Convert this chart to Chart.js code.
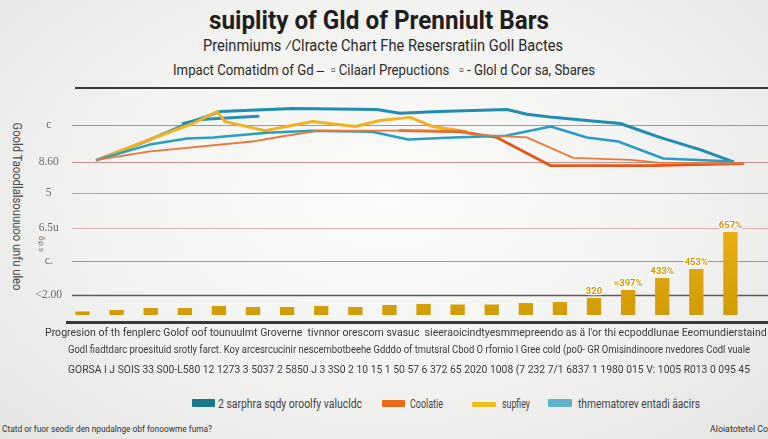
<!DOCTYPE html>
<html>
<head>
<meta charset="utf-8">
<script src="https://cdn.jsdelivr.net/npm/chart.js@4.4.1/dist/chart.umd.min.js"></script>
<style>
  html, body { margin:0; padding:0; }
  body {
    width:768px; height:439px; overflow:hidden; position:relative;
    background: radial-gradient(ellipse at 50% 45%, #fbfbf9 0%, #f2f2f0 55%, #e4e4e2 100%);
    font-family: "Roboto", "Liberation Sans", sans-serif;
    color:#2a2a2a;
  }
  .abs { position:absolute; white-space:nowrap; line-height:1; }
  .fit { display:inline-block; transform-origin:0 0; }
  .rule { position:absolute; height:2px; background:#3a3a3a; }
  .note { font-size:10.5px; color:#3a3a3a; }
  .leg { font-size:12.5px; color:#444; }
  .sw { position:absolute; border-radius:1px; }
  .foot { font-size:8.5px; color:#333; }
  #ytitle { font-size:13px; color:#4a4a4a; transform-origin:50% 50%; }
  #wrap { position:absolute; left:0; }
</style>
</head>
<body>
<div class="abs fit" data-w="340" style="left:209px; top:8px; font-size:25px; font-weight:bold; color:#1e1e1e;">suiplity of Gld of Prenniult Bars</div>
<div class="abs fit" data-w="360" style="left:203px; top:38px; font-size:16px;">Preinmiums ⁄Clracte Chart Fhe Resersratiin GolI Bactes</div>
<div class="abs fit" data-w="422" style="left:173px; top:63px; font-size:15px;">Impact Comatidm of Gd ‒&nbsp;&nbsp;▫ Cilaarl Prepuctions&nbsp;&nbsp;&nbsp;▫ - Glol d Cor sa, Sbares</div>
<div class="rule" style="left:75px; top:87px; width:693px;"></div>

<div id="ytitle" class="abs">Goold Taoodlalsouuuoo unfu uleo</div>
<div class="abs" style="left:33px; top:240px; font-size:8px; color:#777; transform:rotate(90deg);">ẟp.s</div>

<div id="wrap"><canvas id="chart"></canvas></div>

<div class="rule" style="left:66px; top:321px; width:702px; height:2.5px;"></div>
<div class="abs fit note" data-w="730" style="left:45px; top:328px;">Progresion of th fenplerc Golof oof tounuulmt Groverne&nbsp; tivnnor orescom svasuc&nbsp; sieeraoicindtyesmmepreendo as ä l'or thi ecpoddlunae Eeomundierstaind a</div>
<div class="abs fit note" data-w="682" style="left:68px; top:345px;">Godl fiadtdarc proesituid srotly farct. Koy arcesrcucinir nescembotbeehe Gdddo of tmutsral Cbod O rfornio I Gree cold (po0- GR Omisindinoore nvedores Codl vuale</div>
<div class="abs fit note" data-w="682" style="left:68px; top:364px; font-size:11px;">GORSA I J SOIS 33 S00-L580 12 1273 3 5037 2 5850 J 3 3S0 2 10 15 1 50 57 6 372 65 2020 1008 (7 232 7/1 6837 1 1980 015 V: 1005 R013 0 095 45</div>

<div class="sw" style="left:192px; top:399px; width:23px; height:8px; background:#17798c;"></div>
<div class="abs fit leg" data-w="144" style="left:218px; top:398px;">2 sarphra sqdy oroolfy valucldc</div>
<div class="sw" style="left:382px; top:400px; width:23px; height:7px; background:#ea6a1c;"></div>
<div class="abs fit leg" data-w="33" style="left:410px; top:398px;">Coolatie</div>
<div class="sw" style="left:472px; top:402px; width:24px; height:5px; background:#f0bd1e;"></div>
<div class="abs fit leg" data-w="28" style="left:502px; top:398px;">supfiey</div>
<div class="sw" style="left:548px; top:399px; width:24px; height:8px; background:#5fb2c8;"></div>
<div class="abs fit leg" data-w="122" style="left:578px; top:398px;">thmematorev entadi ắacirs</div>

<div class="abs fit foot" data-w="210" style="left:2px; top:425px;">Ctatd or fuor seodir den npudalnge obf fonoowme fuma?</div>
<div class="abs fit foot" data-w="58" style="left:710px; top:425px;">Aloiatotetel Co</div>

<script>
// ---- data ----
const yTicks = [0, 0.99, 1.96, 3.0, 3.9, 5.0];
const yTickLabels = ['<2.00', 'c.', '6.5u', '5', '8.60', 'c'];

const barCategories = ['1','2','3','4','5','6','7','8','9','10','11','12','13','14','15','16','17','18','19','20'];
const barValues = [3.5, 5, 7, 7, 9, 8, 8, 9, 8, 10, 11, 10.5, 10.5, 12, 13, 17, 25, 37, 46, 83];
const barLabels = [null,null,null,null,null,null,null,null,null,null,null,null,null,null,null,'320','≈397%','433%','453%','657%'];

// line series, x on a 0..100 run across the plot
const tealTopX = [3.4, 10.1, 17.4, 21.4, 32.1, 44.4, 47.8, 53.5, 63.5, 66.4, 70.2, 75.2, 80.1, 85.9, 91.8, 96.6];
const tealTopY = [3.96, 4.47, 5.09, 5.38, 5.47, 5.44, 5.33, 5.38, 5.44, 5.30, 5.21, 5.12, 5.03, 4.62, 4.26, 3.91];

const yellowX = [3.4, 11.1, 17.4, 21.0, 22.1, 28.0, 35.0, 41.2, 44.9, 49.3, 52.6, 57.6];
const yellowY = [3.96, 4.56, 5.03, 5.38, 5.09, 4.82, 5.09, 4.94, 5.12, 5.21, 4.94, 4.79];

const lightBlueX = [3.4, 11.1, 16.6, 20.4, 28.3, 35.0, 43.7, 49.0, 55.6, 63.3, 69.9, 75.2, 79.8, 86.4, 96.6];
const lightBlueY = [3.96, 4.41, 4.59, 4.62, 4.76, 4.82, 4.79, 4.56, 4.62, 4.67, 4.94, 4.62, 4.50, 4.00, 3.91];

const orangeX = [3.4, 10.9, 26.1, 30.2, 35.9, 44.9, 56.6, 58.5, 66.4, 73.2, 81.7, 85.6, 98.1];
const orangeY = [3.96, 4.20, 4.50, 4.64, 4.82, 4.82, 4.82, 4.70, 4.62, 4.02, 3.96, 3.88, 3.85];

const darkOrangeX = [47.8, 56.6, 62.0, 69.9, 84.9, 98.1];
const darkOrangeY = [4.82, 4.79, 4.62, 3.79, 3.79, 3.85];

const shortTealX = [16.0, 18.5, 27.0];
const shortTealY = [5.03, 5.15, 5.24];

const pts = (xs, ys) => xs.map((x, i) => ({ x, y: ys[i] }));

// ---- squeeze text to the widths seen in the picture ----
document.querySelectorAll('.fit').forEach(el => {
  const w = el.getBoundingClientRect().width;
  el.style.transform = 'scaleX(' + (+el.dataset.w / w) + ')';
});
const yt = document.getElementById('ytitle');
const ytw = yt.getBoundingClientRect().width, yth = yt.getBoundingClientRect().height;
yt.style.left = (17 - ytw / 2) + 'px';
yt.style.top = (206 - yth / 2) + 'px';
yt.style.transform = 'rotate(90deg) scaleX(' + (168 / ytw) + ')';

// ---- chart placement: plot area should run from y=99 to y=315 on the page ----
const wrap = document.getElementById('wrap');
const canvas = document.getElementById('chart');
const wrapTop = 80, wrapH = 250;
wrap.style.top = wrapTop + 'px';
canvas.width = 768; canvas.height = wrapH;

const gridColors = ['#5a5a5a', '#9a9a9a', '#dcb2b2', '#cc9898', '#c89090', '#9a9a9a'];

const gridPlugin = {
  id: 'fullGrid',
  beforeDatasetsDraw(chart){
    const c = chart.ctx, y = chart.scales.y;
    c.save();
    yTicks.forEach((v, i) => {
      const py = Math.round(y.getPixelForValue(v)) + 0.5;
      c.strokeStyle = gridColors[i];
      c.lineWidth = i === 0 ? 1.6 : 1.2;
      c.beginPath(); c.moveTo(72, py); c.lineTo(chart.width, py); c.stroke();
    });
    c.restore();
  }
};

const barLabelPlugin = {
  id: 'barLabels',
  afterDatasetsDraw(chart){
    const meta = chart.getDatasetMeta(0);
    const c = chart.ctx;
    c.save();
    c.font = 'bold 9.5px Roboto, sans-serif';
    c.textAlign = 'center'; c.textBaseline = 'bottom';
    meta.data.forEach((el, i) => {
      if (!barLabels[i]) return;
      c.lineWidth = 2.5; c.strokeStyle = 'rgba(255,255,255,0.85)';
      c.strokeText(barLabels[i], el.x, el.y - 2);
      c.fillStyle = '#d39a0a';
      c.fillText(barLabels[i], el.x, el.y - 2);
    });
    c.restore();
  }
};

const goldFill = (ctx) => {
  const { chart } = ctx;
  const area = chart.chartArea;
  if (!area) return '#dba410';
  const g = chart.ctx.createLinearGradient(0, area.bottom - 90, 0, area.bottom);
  g.addColorStop(0, '#e9b015');
  g.addColorStop(1, '#d29c08');
  return g;
};

const lineDs = (label, data, color, width) => ({
  type: 'line', label, data, xAxisID: 'xl', yAxisID: 'y',
  borderColor: color, borderWidth: width, pointRadius: 0, tension: 0,
  borderJoinStyle: 'round', borderCapStyle: 'round', fill: false
});

// pin the plot area so the grid lands where the picture has it
const pinArea = {
  id: 'pinArea',
  afterLayout(chart){
    const top = 99 - wrapTop, bottom = 315 - wrapTop;
    const a = chart.chartArea;
    if (Math.abs(a.top - top) < 0.5 && Math.abs(a.bottom - bottom) < 0.5) return;
    a.top = top; a.bottom = bottom; a.height = bottom - top;
    Object.values(chart.scales).forEach(s => {
      if (s.axis === 'y') {
        s.top = top; s.bottom = bottom; s.height = bottom - top;
        s.configure();
      }
    });
  }
};

new Chart(canvas, {
  data: {
    labels: barCategories,
    datasets: [
      { type: 'bar', label: 'bars', data: barValues, xAxisID: 'x', yAxisID: 'yb',
        backgroundColor: goldFill, borderWidth: 0,
        barPercentage: 0.84, categoryPercentage: 1.0, order: 10 },
      lineDs('Coolatie', pts(orangeX, orangeY), '#e8793a', 1.8),
      lineDs('thmematorev entadi ắacirs', pts(lightBlueX, lightBlueY), '#2a9ec2', 2.5),
      lineDs('Coolatie 2', pts(darkOrangeX, darkOrangeY), '#e2561a', 2.8),
      lineDs('supfiey', pts(yellowX, yellowY), '#f0b21e', 3),
      lineDs('2 sarphra sqdy oroolfy valucldc', pts(tealTopX, tealTopY), '#1f8cb2', 3),
      lineDs('short', pts(shortTealX, shortTealY), '#2590b6', 3)
    ]
  },
  options: {
    responsive: false, animation: false, devicePixelRatio: 1,
    layout: { padding: { left: 0, right: 12, top: 0, bottom: 0 } },
    plugins: { legend: { display: false }, tooltip: { enabled: false } },
    scales: {
      x: { type: 'category', display: false, offset: true },
      xl: { type: 'linear', display: false, min: 0, max: 100 },
      yb: { type: 'linear', display: false, min: 0, max: 216 },
      y: {
        type: 'linear', position: 'left', min: -0.6, max: 5.75,
        afterBuildTicks: axis => { axis.ticks = yTicks.map(v => ({ value: v })); },
        afterFit: axis => { axis.width = 74; },
        grid: { display: false, drawTicks: false },
        border: { display: false },
        ticks: {
          padding: 12, crossAlign: 'center', color: '#6a6a6a',
          font: { family: '"Liberation Serif", "DejaVu Serif", serif', size: 11.5 },
          callback: (v) => { const i = yTicks.indexOf(v); return i >= 0 ? yTickLabels[i] : ''; }
        }
      }
    }
  },
  plugins: [pinArea, gridPlugin, barLabelPlugin]
});
</script>
</body>
</html>
